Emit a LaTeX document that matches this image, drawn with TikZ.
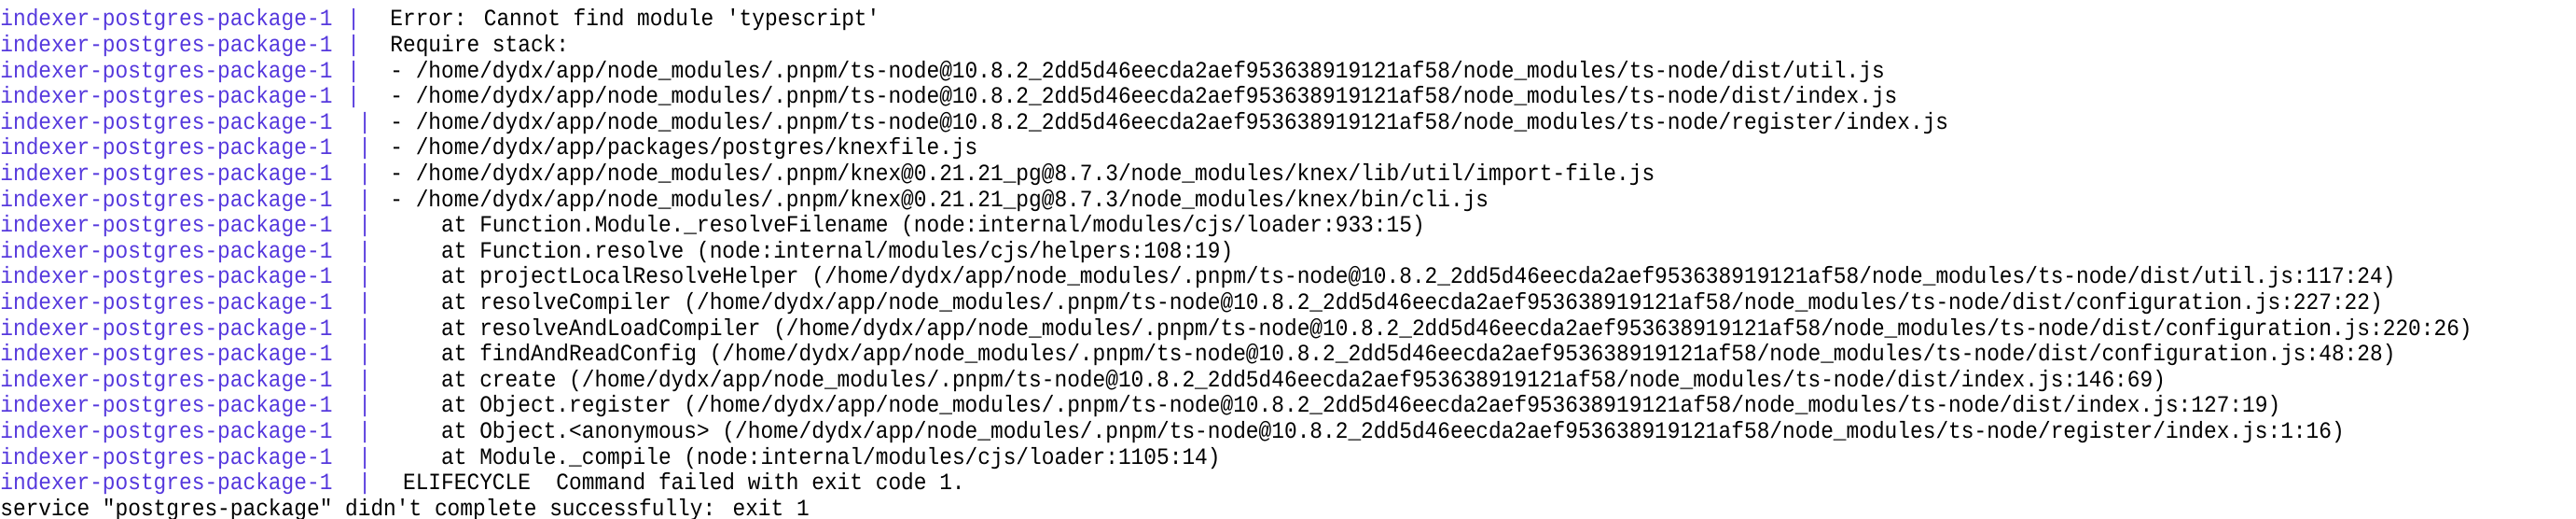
\documentclass[tikz,border=0pt]{standalone}
\usepackage{fontspec}
\newfontfamily\term[FakeStretch=0.913]{Liberation Mono}
\definecolor{pfx}{HTML}{5538DD}
\tikzset{t/.style={inner sep=0pt,anchor=base west,font=\term\fontsize{12.5pt}{13pt}\selectfont},
 p/.style={t,text=pfx}}
\newcommand\Q{\char"27\relax}
\newcommand\DQ{\char"22\relax}
\newcommand\IND{\hspace*{27.4pt}}
\begin{document}
\begin{tikzpicture}[x=1pt,y=1pt]
\useasboundingbox (0,0) rectangle (1381,278);
\foreach \i/\bx in {0/186,1/186,2/186,3/186,4/192,5/192,6/192,7/192,8/192,9/192,10/192,11/192,12/192,13/192,14/192,15/192,16/192,17/192,18/192}{
  \node[p] (pre\i) at (0,{264-13.8*\i}) {indexer-postgres-package-1};
  \node[p] (bar\i) at (\bx,{264-13.8*\i}) {|};
}
\def\row#1#2{\node[t] (c#1) at (209,{264-13.8*#1}) {#2};}
\row{0}{Error: Cannot find module \Q typescript\Q}
\row{1}{Require stack:}
\row{2}{\detokenize{- /home/dydx/app/node_modules/.pnpm/ts-node@10.8.2_2dd5d46eecda2aef953638919121af58/node_modules/ts-node/dist/util.js}}
\row{3}{\detokenize{- /home/dydx/app/node_modules/.pnpm/ts-node@10.8.2_2dd5d46eecda2aef953638919121af58/node_modules/ts-node/dist/index.js}}
\row{4}{\detokenize{- /home/dydx/app/node_modules/.pnpm/ts-node@10.8.2_2dd5d46eecda2aef953638919121af58/node_modules/ts-node/register/index.js}}
\row{5}{\detokenize{- /home/dydx/app/packages/postgres/knexfile.js}}
\row{6}{\detokenize{- /home/dydx/app/node_modules/.pnpm/knex@0.21.21_pg@8.7.3/node_modules/knex/lib/util/import-file.js}}
\row{7}{\detokenize{- /home/dydx/app/node_modules/.pnpm/knex@0.21.21_pg@8.7.3/node_modules/knex/bin/cli.js}}
\row{8}{\IND\detokenize{at Function.Module._resolveFilename (node:internal/modules/cjs/loader:933:15)}}
\row{9}{\IND\detokenize{at Function.resolve (node:internal/modules/cjs/helpers:108:19)}}
\row{10}{\IND\detokenize{at projectLocalResolveHelper (/home/dydx/app/node_modules/.pnpm/ts-node@10.8.2_2dd5d46eecda2aef953638919121af58/node_modules/ts-node/dist/util.js:117:24)}}
\row{11}{\IND\detokenize{at resolveCompiler (/home/dydx/app/node_modules/.pnpm/ts-node@10.8.2_2dd5d46eecda2aef953638919121af58/node_modules/ts-node/dist/configuration.js:227:22)}}
\row{12}{\IND\detokenize{at resolveAndLoadCompiler (/home/dydx/app/node_modules/.pnpm/ts-node@10.8.2_2dd5d46eecda2aef953638919121af58/node_modules/ts-node/dist/configuration.js:220:26)}}
\row{13}{\IND\detokenize{at findAndReadConfig (/home/dydx/app/node_modules/.pnpm/ts-node@10.8.2_2dd5d46eecda2aef953638919121af58/node_modules/ts-node/dist/configuration.js:48:28)}}
\row{14}{\IND\detokenize{at create (/home/dydx/app/node_modules/.pnpm/ts-node@10.8.2_2dd5d46eecda2aef953638919121af58/node_modules/ts-node/dist/index.js:146:69)}}
\row{15}{\IND\detokenize{at Object.register (/home/dydx/app/node_modules/.pnpm/ts-node@10.8.2_2dd5d46eecda2aef953638919121af58/node_modules/ts-node/dist/index.js:127:19)}}
\row{16}{\IND\detokenize{at Object.<anonymous> (/home/dydx/app/node_modules/.pnpm/ts-node@10.8.2_2dd5d46eecda2aef953638919121af58/node_modules/ts-node/register/index.js:1:16)}}
\row{17}{\IND\detokenize{at Module._compile (node:internal/modules/cjs/loader:1105:14)}}
\row{18}{\hspace*{6.85pt}ELIFECYCLE\ \ Command failed with exit code 1.}
\node[t] (c19) at (0,{264-13.8*19}) {service \DQ postgres-package\DQ\ didn\Q t complete successfully: exit 1};
\end{tikzpicture}
\end{document}
